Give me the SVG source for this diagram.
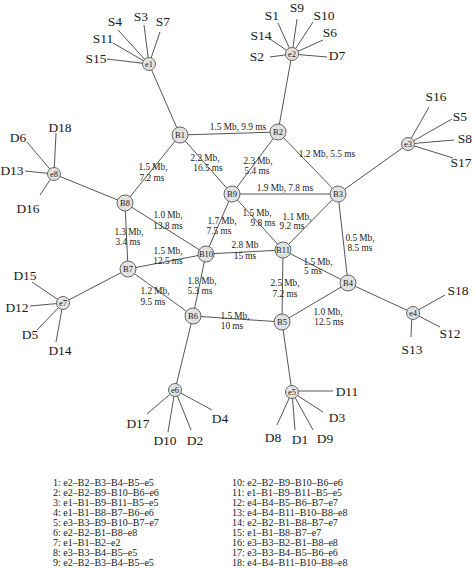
<svg xmlns="http://www.w3.org/2000/svg" width="474" height="568" viewBox="0 0 474 568">
<style>
.bg{fill:#fff}
.ln{stroke:#555;stroke-width:1;fill:none}
.nb{fill:#e2e2e2;stroke:#666;stroke-width:1}
.t{font-family:"Liberation Serif","Times New Roman",serif;fill:#1a1a1a}
.leaf{font-size:13.5px;text-anchor:middle}
.el{font-size:9.3px;text-anchor:middle}
.nl{font-size:8.5px;text-anchor:middle}
.lg{font-size:10px}
</style>
<rect class="bg" x="0" y="0" width="474" height="568"/>
<g id="connectors" class="ln">
<line x1="149" y1="64" x2="180" y2="135"/>
<line x1="292" y1="54" x2="278" y2="132"/>
<line x1="408" y1="144" x2="338" y2="194"/>
<line x1="54" y1="174" x2="125" y2="203"/>
<line x1="63" y1="303" x2="128" y2="269"/>
<line x1="175" y1="390" x2="193" y2="316"/>
<line x1="292" y1="392" x2="282" y2="322"/>
<line x1="413" y1="313" x2="348" y2="283"/>
<line x1="180" y1="135" x2="278" y2="132"/>
<line x1="180" y1="135" x2="125" y2="203"/>
<line x1="180" y1="135" x2="232" y2="194"/>
<line x1="278" y1="132" x2="232" y2="194"/>
<line x1="278" y1="132" x2="338" y2="194"/>
<line x1="232" y1="194" x2="338" y2="194"/>
<line x1="232" y1="194" x2="206" y2="254"/>
<line x1="232" y1="194" x2="283" y2="250"/>
<line x1="338" y1="194" x2="283" y2="250"/>
<line x1="338" y1="194" x2="348" y2="283"/>
<line x1="125" y1="203" x2="206" y2="254"/>
<line x1="125" y1="203" x2="128" y2="269"/>
<line x1="128" y1="269" x2="206" y2="254"/>
<line x1="206" y1="254" x2="283" y2="250"/>
<line x1="283" y1="250" x2="348" y2="283"/>
<line x1="283" y1="250" x2="282" y2="322"/>
<line x1="206" y1="254" x2="193" y2="316"/>
<line x1="128" y1="269" x2="193" y2="316"/>
<line x1="193" y1="316" x2="282" y2="322"/>
<line x1="282" y1="322" x2="348" y2="283"/>
<line x1="149" y1="64" x2="144" y2="25"/>
<line x1="149" y1="64" x2="160" y2="32"/>
<line x1="149" y1="64" x2="118" y2="30"/>
<line x1="149" y1="64" x2="113" y2="43"/>
<line x1="149" y1="64" x2="107" y2="59"/>
<line x1="292" y1="54" x2="297" y2="19"/>
<line x1="292" y1="54" x2="278" y2="23"/>
<line x1="292" y1="54" x2="313" y2="22"/>
<line x1="292" y1="54" x2="270" y2="39"/>
<line x1="292" y1="54" x2="323" y2="40"/>
<line x1="292" y1="54" x2="270" y2="57"/>
<line x1="292" y1="54" x2="327" y2="57"/>
<line x1="408" y1="144" x2="429" y2="107"/>
<line x1="408" y1="144" x2="452" y2="119"/>
<line x1="408" y1="144" x2="454" y2="140"/>
<line x1="408" y1="144" x2="453" y2="158"/>
<line x1="54" y1="174" x2="56" y2="133"/>
<line x1="54" y1="174" x2="27" y2="142"/>
<line x1="54" y1="174" x2="25" y2="171"/>
<line x1="54" y1="174" x2="40" y2="195"/>
<line x1="63" y1="303" x2="32" y2="282"/>
<line x1="63" y1="303" x2="30" y2="306"/>
<line x1="63" y1="303" x2="37" y2="330"/>
<line x1="63" y1="303" x2="56" y2="342"/>
<line x1="175" y1="390" x2="147" y2="414"/>
<line x1="175" y1="390" x2="168" y2="432"/>
<line x1="175" y1="390" x2="191" y2="430"/>
<line x1="175" y1="390" x2="212" y2="410"/>
<line x1="292" y1="391" x2="333" y2="391"/>
<line x1="292" y1="392" x2="323" y2="412"/>
<line x1="292" y1="392" x2="313" y2="430"/>
<line x1="292" y1="392" x2="295" y2="430"/>
<line x1="292" y1="392" x2="277" y2="425"/>
<line x1="413" y1="313" x2="445" y2="295"/>
<line x1="413" y1="313" x2="440" y2="327"/>
<line x1="412" y1="313" x2="411" y2="337"/>
</g>
<g id="edge-labels" class="t el">
<text x="238" y="130">1.5 Mb, 9.9 ms</text>
<text x="205" y="161">2.2 Mb,</text><text x="208" y="171">16.5 ms</text>
<text x="258" y="164">2.3 Mb,</text><text x="257" y="174">5.4 ms</text>
<text x="327" y="157">1.2 Mb, 5.5 ms</text>
<text x="285" y="191">1.9 Mb, 7.8 ms</text>
<text x="153" y="170">1.5 Mb,</text><text x="152" y="181">7.2 ms</text>
<text x="168" y="218">1.0 Mb,</text><text x="168" y="229">13.8 ms</text>
<text x="222" y="224">1.7 Mb,</text><text x="219" y="234">7.5 ms</text>
<text x="257" y="216">1.5 Mb,</text><text x="263" y="226">9.8 ms</text>
<text x="297" y="220">1.1 Mb,</text><text x="292" y="229">9.2 ms</text>
<text x="129" y="235">1.3 Mb,</text><text x="128" y="245">3.4 ms</text>
<text x="168" y="254">1.5 Mb,</text><text x="168" y="264">12.5 ms</text>
<text x="245" y="248">2.8 Mb</text><text x="245" y="259">15 ms</text>
<text x="318" y="265">1.5 Mb,</text><text x="313" y="274">5 ms</text>
<text x="360" y="241">0.5 Mb,</text><text x="360" y="251">8.5 ms</text>
<text x="202" y="284">1.8 Mb,</text><text x="200" y="294">5.3 ms</text>
<text x="155" y="294">1.2 Mb,</text><text x="153" y="305">9.5 ms</text>
<text x="285" y="286">2.5 Mb,</text><text x="285" y="297">7.2 ms</text>
<text x="235" y="319">1.5 Mb,</text><text x="232" y="329">10 ms</text>
<text x="328" y="315">1.0 Mb,</text><text x="329" y="325">12.5 ms</text>
</g>
<g id="leaves" class="t leaf">
<text x="115" y="26">S4</text><text x="141" y="21">S3</text><text x="163" y="26">S7</text>
<text x="103" y="43">S11</text><text x="96" y="63">S15</text>
<text x="297" y="12">S9</text><text x="272" y="20">S1</text><text x="324" y="20">S10</text>
<text x="261" y="40">S14</text><text x="330" y="37">S6</text><text x="257" y="61">S2</text><text x="337" y="60">D7</text>
<text x="436" y="101">S16</text><text x="460" y="121">S5</text><text x="465" y="143">S8</text><text x="461" y="167">S17</text>
<text x="60" y="132">D18</text><text x="18" y="142">D6</text><text x="12" y="175">D13</text><text x="28" y="213">D16</text>
<text x="25" y="280">D15</text><text x="17" y="312">D12</text><text x="30" y="339">D5</text><text x="60" y="355">D14</text>
<text x="138" y="428">D17</text><text x="165" y="445">D10</text><text x="195" y="445">D2</text><text x="220" y="423">D4</text>
<text x="347" y="396">D11</text><text x="337" y="422">D3</text><text x="325" y="443">D9</text><text x="300" y="444">D1</text><text x="273" y="442">D8</text>
<text x="458" y="295">S18</text><text x="450" y="338">S12</text><text x="412" y="354">S13</text>
</g>
<g id="e1"><circle class="nb" cx="149" cy="64" r="6.5"/><text class="t nl" x="149" y="67">e1</text></g>
<g id="e2"><circle class="nb" cx="292" cy="54" r="6.5"/><text class="t nl" x="292" y="57">e2</text></g>
<g id="e3"><circle class="nb" cx="408" cy="144" r="6.5"/><text class="t nl" x="408" y="147">e3</text></g>
<g id="e4"><circle class="nb" cx="413" cy="313" r="6.5"/><text class="t nl" x="413" y="316">e4</text></g>
<g id="e5"><circle class="nb" cx="292" cy="392" r="6.5"/><text class="t nl" x="292" y="395">e5</text></g>
<g id="e6"><circle class="nb" cx="175" cy="390" r="6.5"/><text class="t nl" x="175" y="393">e6</text></g>
<g id="e7"><circle class="nb" cx="63" cy="303" r="6.5"/><text class="t nl" x="63" y="306">e7</text></g>
<g id="e8"><circle class="nb" cx="54" cy="174" r="6.5"/><text class="t nl" x="54" y="177">e8</text></g>
<g id="B1"><circle class="nb" cx="180" cy="135" r="8"/><text class="t nl" x="180" y="138">B1</text></g>
<g id="B2"><circle class="nb" cx="278" cy="132" r="8"/><text class="t nl" x="278" y="135">B2</text></g>
<g id="B3"><circle class="nb" cx="338" cy="194" r="8"/><text class="t nl" x="338" y="197">B3</text></g>
<g id="B4"><circle class="nb" cx="348" cy="283" r="8"/><text class="t nl" x="348" y="286">B4</text></g>
<g id="B5"><circle class="nb" cx="282" cy="322" r="8"/><text class="t nl" x="282" y="325">B5</text></g>
<g id="B6"><circle class="nb" cx="193" cy="316" r="8"/><text class="t nl" x="193" y="319">B6</text></g>
<g id="B7"><circle class="nb" cx="128" cy="269" r="8"/><text class="t nl" x="128" y="272">B7</text></g>
<g id="B8"><circle class="nb" cx="125" cy="203" r="8"/><text class="t nl" x="125" y="206">B8</text></g>
<g id="B9"><circle class="nb" cx="232" cy="194" r="8"/><text class="t nl" x="232" y="197">B9</text></g>
<g id="B10"><circle class="nb" cx="206" cy="254" r="8"/><text class="t nl" x="206" y="257">B10</text></g>
<g id="B11"><circle class="nb" cx="283" cy="250" r="8"/><text class="t nl" x="283" y="253">B11</text></g>
<g id="legend" class="t lg">
<text x="53" y="486">1: e2–B2–B3–B4–B5–e5</text>
<text x="53" y="496">2: e2–B2–B9–B10–B6–e6</text>
<text x="53" y="506">3: e1–B1–B9–B11–B5–e5</text>
<text x="53" y="516">4: e1–B1–B8–B7–B6–e6</text>
<text x="53" y="526">5: e3–B3–B9–B10–B7–e7</text>
<text x="53" y="536">6: e2–B2–B1–B8–e8</text>
<text x="53" y="546">7: e1–B1–B2–e2</text>
<text x="53" y="556">8: e3–B3–B4–B5–e5</text>
<text x="53" y="566">9: e2–B2–B3–B4–B5–e5</text>
<text x="232" y="486">10: e2–B2–B9–B10–B6–e6</text>
<text x="232" y="496">11: e1–B1–B9–B11–B5–e5</text>
<text x="232" y="506">12: e4–B4–B5–B6–B7–e7</text>
<text x="232" y="516">13: e4–B4–B11–B10–B8–e8</text>
<text x="232" y="526">14: e2–B2–B1–B8–B7–e7</text>
<text x="232" y="536">15: e1–B1–B8–B7–e7</text>
<text x="232" y="546">16: e3–B3–B2–B1–B8–e8</text>
<text x="232" y="556">17: e3–B3–B4–B5–B6–e6</text>
<text x="232" y="566">18: e4–B4–B11–B10–B8–e8</text>
</g>
</svg>
